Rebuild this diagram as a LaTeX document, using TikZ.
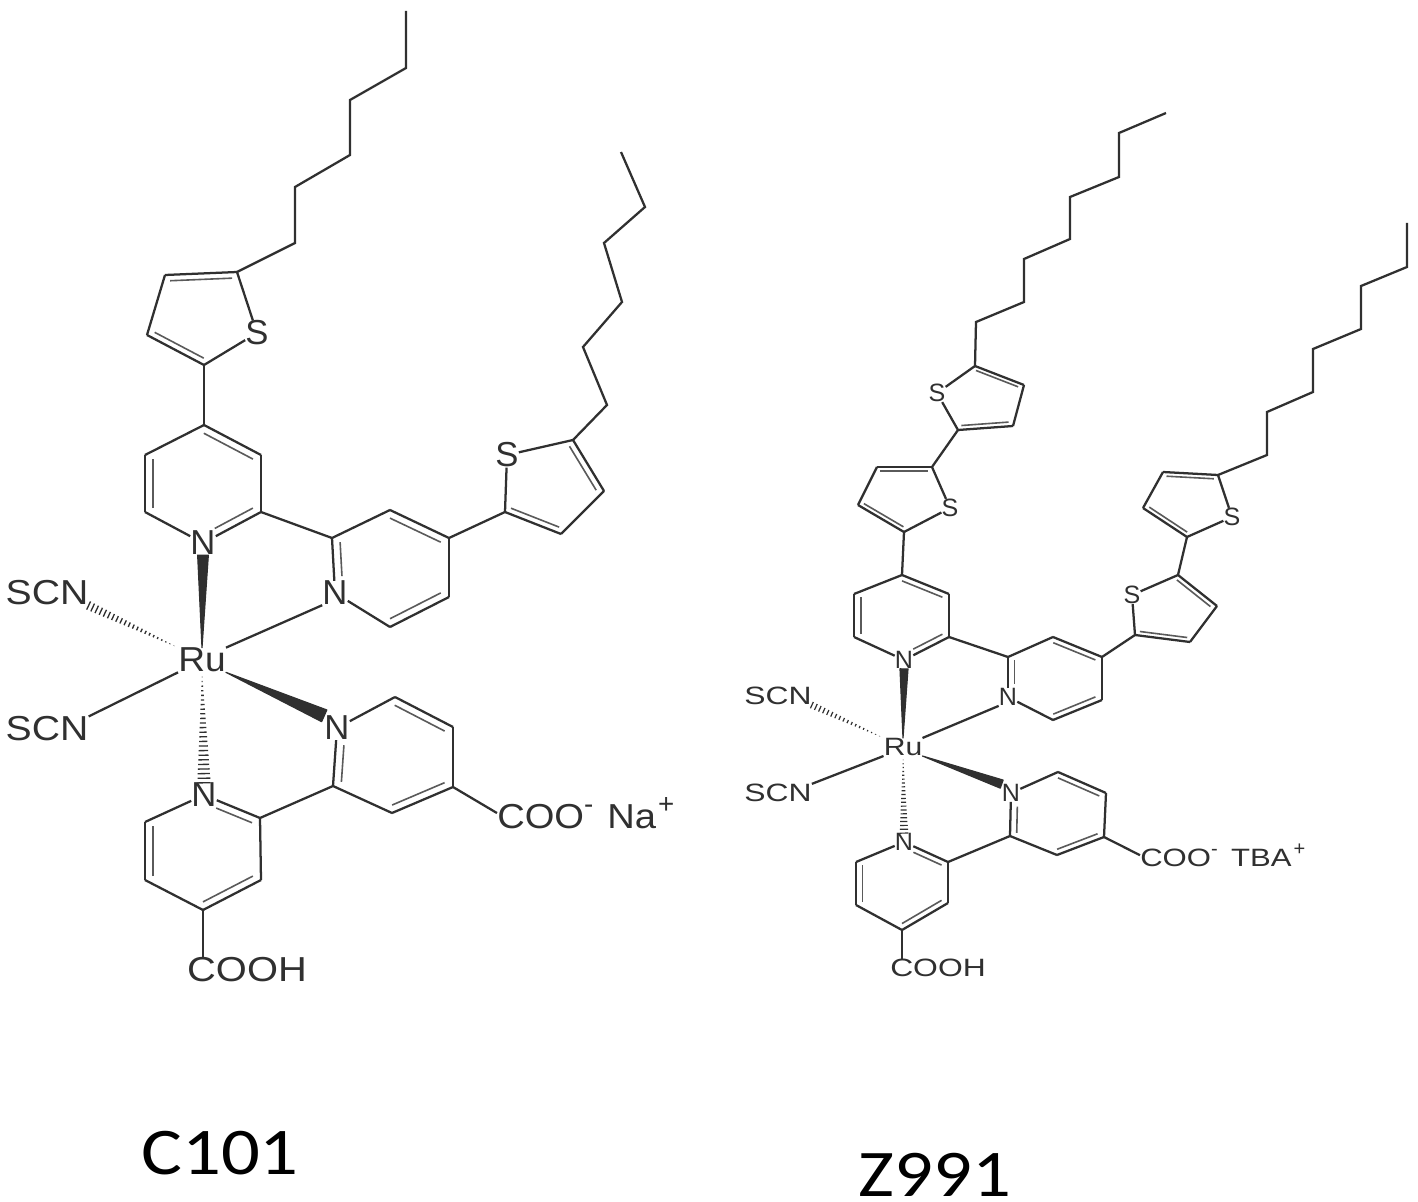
\documentclass[tikz,border=0pt]{standalone}
\usepackage{fontspec}
\setmainfont{Liberation Sans}
\newfontfamily\calib[Numbers=Lining]{Carlito}
\usetikzlibrary{calc}
\definecolor{ink}{HTML}{303030}
\definecolor{inkin}{HTML}{5A5A5A}
\newcommand\ssup[1]{\raisebox{.41em}{\scalebox{.8}{#1}}}
% double bond: outer line a--b, inner line pulled toward ring centre c
\newcommand\dbl[4][]{\draw[bondl] (#2) -- (#3);
  \draw[innerl,#1] ($(#2)!.14!(#4)$) -- ($(#3)!.14!(#4)$);}
% solid wedge from thin end a to thick end b, half width w
\newcommand\solidw[3]{\coordinate (e1) at ($(#2)!#3!90:(#1)$);
  \coordinate (e2) at ($(#2)!#3!-90:(#1)$);
  \filldraw[ink,line width=.9pt,line join=round] (#1) -- (e1) -- (e2) -- cycle;}
% hashed wedge from thin end a to thick end b, half width w, n strokes
\newcommand\hashw[5][1]{\coordinate (e1) at ($(#3)!#4!90:(#2)$);
  \coordinate (e2) at ($(#3)!#4!-90:(#2)$);
  \foreach \i in {1,...,#5}{\pgfmathsetmacro\tt{\i/#5}
    \draw[ink,line width=#1pt] ($(#2)!\tt!(e1)$) -- ($(#2)!\tt!(e2)$);}}
\tikzset{
  bondl/.style={draw=ink,line width=1.7pt,line join=miter},
  innerl/.style={draw=inkin,line width=1.2pt},
  bigat/.style={inner sep=0pt,text=ink,font=\fontsize{26}{26}\selectfont},
  smallat/.style={inner sep=0pt,text=ink,font=\fontsize{18.8}{19}\selectfont},
  title/.style={inner sep=0pt,text=black,font=\calib\fontsize{50}{50}\selectfont}
}
\begin{document}
\begin{tikzpicture}[x=0.75pt,y=-0.75pt]
\useasboundingbox (0,0) rectangle (1418,1202);
\fill[white] (0,0) rectangle (1418,1202);

%% ===== C101 =====
\node[bigat] (Ru) at (202,660) {\scalebox{1.07}[1]{Ru}};
\node[bigat] (scnU) at (47,593) {\scalebox{1.13}[1]{SCN}};
\node[bigat] (scnL) at (47,729) {\scalebox{1.13}[1]{SCN}};
\node[bigat] (Na) at (203,543) {N};
\node[bigat] (Nb) at (335,593) {N};
\node[bigat] (Nc) at (337,728) {N};
\node[bigat] (Nd) at (204,795) {N};
\node[bigat] (Sa) at (257,333) {S};
\node[bigat] (Sb) at (507,455) {S};
\node[bigat] (cooh) at (247,970) {\scalebox{1.15}[1]{COOH}};
\node[bigat,anchor=base west] (coona) at (497,828) {\scalebox{1.1}[1]{COO}\ssup{-}\hspace{10.5pt}\scalebox{1.1}[1]{Na}\hspace{1.5pt}\ssup{+}};
% chain A and thiophene A
\coordinate (a0) at (406,11); \coordinate (a1) at (406,68); \coordinate (a2) at (350,100);
\coordinate (a3) at (350,155); \coordinate (a4) at (295,187); \coordinate (a5) at (295,243);
\coordinate (ta1) at (237,272); \coordinate (ta2) at (165,275); \coordinate (ta3) at (147,335);
\coordinate (ta4) at (204,365); \coordinate (rta) at (202,316);
\draw[bondl] (a0) -- (a1) -- (a2) -- (a3) -- (a4) -- (a5) -- (ta1);
\dbl{ta1}{ta2}{rta}
\draw[bondl] (ta2) -- (ta3);
\dbl{ta3}{ta4}{rta}
\draw[bondl] (ta1) -- (Sa);
\draw[bondl] (ta4) -- (Sa);
% pyridine A
\coordinate (pa1) at (204,425); \coordinate (pa2) at (261,455); \coordinate (pa3) at (261,512);
\coordinate (pa5) at (145,512); \coordinate (pa6) at (145,455); \coordinate (rpa) at (203,484);
\draw[bondl] (ta4) -- (pa1);
\dbl{pa1}{pa2}{rpa}
\draw[bondl] (pa2) -- (pa3);
\dbl[shorten <=10pt]{Na}{pa3}{rpa}
\draw[bondl] (Na) -- (pa5);
\dbl{pa5}{pa6}{rpa}
\draw[bondl] (pa6) -- (pa1);
% pyridine B
\coordinate (pb1) at (332,538); \coordinate (pb2) at (390,510); \coordinate (pb3) at (449,538);
\coordinate (pb4) at (449,597); \coordinate (pb5) at (390,627); \coordinate (rpb) at (390,568);
\draw[bondl] (pa3) -- (pb1);
\dbl[shorten <=10pt]{Nb}{pb1}{rpb}
\draw[bondl] (pb1) -- (pb2);
\dbl{pb2}{pb3}{rpb}
\draw[bondl] (pb3) -- (pb4);
\dbl{pb4}{pb5}{rpb}
\draw[bondl] (pb5) -- (Nb);
% thiophene B and chain B
\coordinate (tb1) at (505,512); \coordinate (tb2) at (561,534); \coordinate (tb3) at (604,491);
\coordinate (tb4) at (573,440); \coordinate (rtb) at (548,485);
\coordinate (b1) at (607,405); \coordinate (b2) at (583,347); \coordinate (b3) at (622,302);
\coordinate (b4) at (604,243); \coordinate (b5) at (645,207); \coordinate (b6) at (621,152);
\draw[bondl] (pb3) -- (tb1);
\dbl{tb1}{tb2}{rtb}
\draw[bondl] (tb2) -- (tb3);
\dbl{tb3}{tb4}{rtb}
\draw[bondl] (tb4) -- (Sb);
\draw[bondl] (tb1) -- (Sb);
\draw[bondl] (tb4) -- (b1) -- (b2) -- (b3) -- (b4) -- (b5) -- (b6);
% pyridine C
\coordinate (pc1) at (395,697); \coordinate (pc2) at (453,727); \coordinate (pc3) at (453,787);
\coordinate (pc4) at (392,813); \coordinate (pc5) at (333,786); \coordinate (rpc) at (393,756);
\draw[bondl] (Nc) -- (pc1);
\dbl{pc1}{pc2}{rpc}
\draw[bondl] (pc2) -- (pc3);
\dbl{pc3}{pc4}{rpc}
\draw[bondl] (pc4) -- (pc5);
\dbl[shorten <=10pt]{Nc}{pc5}{rpc}
\draw[bondl] (pc3) -- (coona.west);
% pyridine D
\coordinate (pd1) at (260,818); \coordinate (pd2) at (261,880); \coordinate (pd3) at (203,910);
\coordinate (pd4) at (145,880); \coordinate (pd5) at (145,822); \coordinate (rpd) at (203,852);
\draw[bondl] (pc5) -- (pd1);
\dbl[shorten <=10pt]{Nd}{pd1}{rpd}
\draw[bondl] (pd1) -- (pd2);
\dbl{pd2}{pd3}{rpd}
\draw[bondl] (pd3) -- (pd4);
\dbl{pd4}{pd5}{rpd}
\draw[bondl] (pd5) -- (Nd);
\draw[bondl] (pd3) -- (pd3 |- cooh.north);
% metal bonds
\solidw{Ru.north}{Na.south}{4pt}
\draw[bondl] (Ru.north east) -- (Nb.south west);
\solidw{Ru.south east}{Nc.north west}{4.8pt}
\hashw[1]{Ru.south}{Nd.north}{5pt}{24}
\hashw[1]{Ru.north west}{scnU.south east}{3.4pt}{22}
\draw[bondl] (Ru.south west) -- (scnL.north east);

%% ===== Z991 =====
\node[smallat] (RuZ) at (903,747) {\scalebox{1.2}[1]{Ru}};
\node[smallat] (scnZU) at (778,696) {\scalebox{1.27}[1]{SCN}};
\node[smallat] (scnZL) at (778,793) {\scalebox{1.27}[1]{SCN}};
\node[smallat] (NZa) at (904,660) {N};
\node[smallat] (NZb) at (1008,697) {N};
\node[smallat] (NZc) at (1011,793) {N};
\node[smallat] (NZd) at (904,842) {N};
\node[smallat] (SZa) at (950,508) {S};
\node[smallat] (SZb) at (937,393) {S};
\node[smallat] (SZc) at (1132,595) {S};
\node[smallat] (SZd) at (1232,517) {S};
\node[smallat] (coohZ) at (938,968) {\scalebox{1.27}[1]{COOH}};
\node[smallat,anchor=base west] (cooZ) at (1140,866) {\scalebox{1.24}[1]{COO}\ssup{-}\hspace{10pt}\scalebox{1.24}[1]{TBA}\hspace{1.5pt}\ssup{+}};
% pyridine 1
\coordinate (q1) at (902,575); \coordinate (q2) at (949,594); \coordinate (q3) at (949,637);
\coordinate (q5) at (854,637); \coordinate (q6) at (854,594); \coordinate (rq) at (902,617);
\dbl{q1}{q2}{rq}
\draw[bondl] (q2) -- (q3);
\dbl[shorten <=8pt]{NZa}{q3}{rq}
\draw[bondl] (NZa) -- (q5);
\dbl{q5}{q6}{rq}
\draw[bondl] (q6) -- (q1);
% pyridine 2
\coordinate (v1) at (1008,657); \coordinate (v2) at (1053,637); \coordinate (v3) at (1102,657);
\coordinate (v4) at (1102,700); \coordinate (v5) at (1053,720); \coordinate (rv) at (1055,678);
\draw[bondl] (q3) -- (v1);
\dbl[shorten <=8pt]{NZb}{v1}{rv}
\draw[bondl] (v1) -- (v2);
\dbl{v2}{v3}{rv}
\draw[bondl] (v3) -- (v4);
\dbl{v4}{v5}{rv}
\draw[bondl] (v5) -- (NZb);
% pyridine 3
\coordinate (w1) at (1058,772); \coordinate (w2) at (1106,793); \coordinate (w3) at (1104,837);
\coordinate (w4) at (1057,855); \coordinate (w5) at (1010,836); \coordinate (rw) at (1058,814);
\draw[bondl] (NZc) -- (w1);
\dbl{w1}{w2}{rw}
\draw[bondl] (w2) -- (w3);
\dbl{w3}{w4}{rw}
\draw[bondl] (w4) -- (w5);
\dbl[shorten <=8pt]{NZc}{w5}{rw}
\draw[bondl] (w3) -- (cooZ.west);
% pyridine 4
\coordinate (y1) at (948,862); \coordinate (y2) at (948,903); \coordinate (y3) at (902,930);
\coordinate (y4) at (856,905); \coordinate (y5) at (856,862); \coordinate (ry) at (902,884);
\draw[bondl] (w5) -- (y1);
\dbl[shorten <=8pt]{NZd}{y1}{ry}
\draw[bondl] (y1) -- (y2);
\dbl{y2}{y3}{ry}
\draw[bondl] (y3) -- (y4);
\dbl{y4}{y5}{ry}
\draw[bondl] (y5) -- (NZd);
\draw[bondl] (y3) -- (y3 |- coohZ.north);
% thiophenes on pyridine 1
\coordinate (t1) at (904,532); \coordinate (t2) at (858,505); \coordinate (t3) at (877,467);
\coordinate (t4) at (932,467); \coordinate (rt1) at (900,495);
\draw[bondl] (q1) -- (t1);
\dbl{t1}{t2}{rt1}
\draw[bondl] (t2) -- (t3);
\dbl{t3}{t4}{rt1}
\draw[bondl] (t4) -- (SZa);
\draw[bondl] (t1) -- (SZa);
\coordinate (u1) at (958,430); \coordinate (u2) at (1013,426); \coordinate (u3) at (1024,385);
\coordinate (u4) at (975,366); \coordinate (ru) at (982,398);
\draw[bondl] (t4) -- (u1);
\dbl{u1}{u2}{ru}
\draw[bondl] (u2) -- (u3);
\dbl{u3}{u4}{ru}
\draw[bondl] (u4) -- (SZb);
\draw[bondl] (u1) -- (SZb);
\coordinate (c1) at (976,322); \coordinate (c2) at (1024,302); \coordinate (c3) at (1024,259);
\coordinate (c4) at (1070,239); \coordinate (c5) at (1070,197); \coordinate (c6) at (1119,177);
\coordinate (c7) at (1119,133); \coordinate (c8) at (1166,113);
\draw[bondl] (u4) -- (c1) -- (c2) -- (c3) -- (c4) -- (c5) -- (c6) -- (c7) -- (c8);
% thiophenes on pyridine 2
\coordinate (g1) at (1135,635); \coordinate (g2) at (1190,642); \coordinate (g3) at (1217,606);
\coordinate (g4) at (1178,575); \coordinate (rg) at (1170,610);
\draw[bondl] (v3) -- (g1);
\dbl{g1}{g2}{rg}
\draw[bondl] (g2) -- (g3);
\dbl{g3}{g4}{rg}
\draw[bondl] (g4) -- (SZc);
\draw[bondl] (g1) -- (SZc);
\coordinate (h1) at (1187,537); \coordinate (h2) at (1143,508); \coordinate (h3) at (1163,472);
\coordinate (h4) at (1218,475); \coordinate (rh) at (1188,502);
\draw[bondl] (g4) -- (h1);
\dbl{h1}{h2}{rh}
\draw[bondl] (h2) -- (h3);
\dbl{h3}{h4}{rh}
\draw[bondl] (h4) -- (SZd);
\draw[bondl] (h1) -- (SZd);
\coordinate (k1) at (1267,455); \coordinate (k2) at (1267,412); \coordinate (k3) at (1313,392);
\coordinate (k4) at (1313,349); \coordinate (k5) at (1361,329); \coordinate (k6) at (1361,286);
\coordinate (k7) at (1407,267); \coordinate (k8) at (1407,223);
\draw[bondl] (h4) -- (k1) -- (k2) -- (k3) -- (k4) -- (k5) -- (k6) -- (k7) -- (k8);
% metal bonds
\solidw{RuZ.north}{NZa.south}{3pt}
\draw[bondl] (RuZ.north east) -- (NZb.south west);
\solidw{RuZ.south east}{NZc.north west}{3.2pt}
\hashw[.9]{RuZ.south}{NZd.north}{3.2pt}{20}
\hashw[.9]{RuZ.north west}{scnZU.south east}{2.6pt}{18}
\draw[bondl] (RuZ.south west) -- (scnZL.north east);

%% ===== titles =====
\node[title] (tC) at (220,1153) {\scalebox{1.15}[1]{C101}};
\node[title] (tZ) at (935,1175) {\scalebox{1.15}[1]{Z991}};
\end{tikzpicture}
\end{document}
